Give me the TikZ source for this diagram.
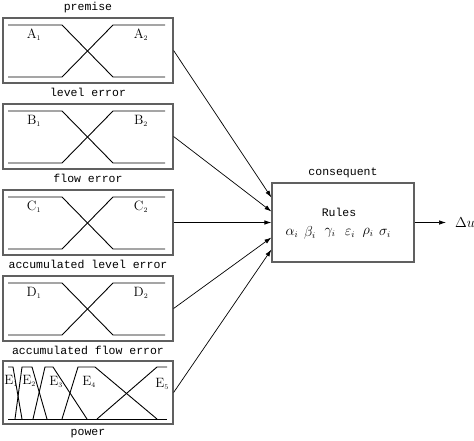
\documentclass[tikz,border=0pt]{standalone}
\usepackage{amsmath}
\usepackage{fontspec}
\setmonofont{Liberation Mono}
\usepackage{tikz}
\usetikzlibrary{calc, positioning, arrows.meta}

\tikzset{
  mfbox/.style={draw=gray!75!black, line width=1.2pt, minimum width=170pt, minimum height=65pt, inner sep=0pt},
  mf/.style={line width=0.9pt},
  caption/.style={font=\fontsize{11.5}{13}\selectfont\ttfamily, inner sep=1pt},
  letter/.style={font=\fontsize{13.5}{15}\selectfont, inner sep=0pt},
  link/.style={-{Latex[length=7pt,width=4.5pt]}, line width=0.7pt},
}

\begin{document}
\begin{tikzpicture}[x=1pt, y=-1pt]
            \useasboundingbox (0,0) rectangle (474,440);
            % premise boxes
            \node[mfbox] (lev) at (88,50.5) {};
            \node[mfbox] (flow) at (88,136.5) {};
            \node[mfbox] (alev) at (88,222.5) {};
            \node[mfbox] (aflow) at (88,308.5) {};
            \node[mfbox, minimum height=63pt] (pow) at (88,392.5) {};
            \node[caption, above=3pt of lev] (prem) {premise};
            \node[caption, below=3pt of lev] (levlab) {level error};
            \node[caption, below=3pt of flow] (flowlab) {flow error};
            \node[caption, below=3pt of alev] (alevlab) {accumulated level error};
            \node[caption, below=3pt of aflow] (aflowlab) {accumulated flow error};
            \node[caption, below=3pt of pow] (powlab) {power};
            % two sets per input
            \foreach \t/\l in {18/A, 104/B, 190/C, 276/D} {
                \draw[mf] (8,\t+7) -- (62,\t+7) -- (113,\t+59) -- (165,\t+59);
                \draw[mf] (8,\t+59) -- (62,\t+59) -- (113,\t+7) -- (165,\t+7);
                \node[letter] (\l1) at (34,\t+17) {$\mathrm{\l}_{\scriptscriptstyle 1}$};
                \node[letter] (\l2) at (141,\t+17) {$\mathrm{\l}_{\scriptscriptstyle 2}$};
            }
            % five sets for power
            \draw[mf] (8,419) -- (167,419);
            \draw[mf] (8,367) -- (13,367) -- (22,419);
            \draw[mf] (15,419) -- (22,367) -- (32,367) -- (47,419);
            \draw[mf] (33,419) -- (45,367) -- (53,367) -- (87,419);
            \draw[mf] (62,419) -- (78,367) -- (95,367) -- (157,419);
            \draw[mf] (97,419) -- (157,367) -- (167,367);
            \node[letter] (E1) at (11,381) {$\mathrm{E}_{\scriptscriptstyle 1}$};
            \node[letter] (E2) at (29,381) {$\mathrm{E}_{\scriptscriptstyle 2}$};
            \node[letter] (E3) at (56,382) {$\mathrm{E}_{\scriptscriptstyle 3}$};
            \node[letter] (E4) at (89,382) {$\mathrm{E}_{\scriptscriptstyle 4}$};
            \node[letter] (E5) at (162,384) {$\mathrm{E}_{\scriptscriptstyle 5}$};
            % consequent
            \node[mfbox, minimum width=142pt, minimum height=79pt] (rules) at (343,222.5) {};
            \node[caption, above=3pt of rules] (cons) {consequent};
            \node[caption] (ruleslab) at (339,212) {Rules};
            \node[letter] (alpha) at (292,233) {$\alpha_i$};
            \node[letter] (beta) at (310,233) {$\beta_i$};
            \node[letter] (gamma) at (330,233) {$\gamma_i$};
            \node[letter] (eps) at (350,233) {$\varepsilon_i$};
            \node[letter] (rho) at (368,233) {$\rho_i$};
            \node[letter] (sigma) at (385,233) {$\sigma_i$};
            \coordinate (in1) at ($(rules.west)+(0,-25)$);
            \coordinate (in2) at ($(rules.west)+(0,-11)$);
            \coordinate (in3) at (rules.west);
            \coordinate (in4) at ($(rules.west)+(0,15)$);
            \coordinate (in5) at ($(rules.west)+(0,27)$);
            \draw[link] (lev.east) -- (in1);
            \draw[link] (flow.east) -- (in2);
            \draw[link] (alev.east) -- (in3);
            \draw[link] (aflow.east) -- (in4);
            \draw[link] (pow.east) -- (in5);
            \coordinate (out) at (446,222.5);
            \draw[link] (rules.east) -- (out);
            \node[letter, right=9pt of out] (du) {$\Delta u$};
        \end{tikzpicture}
\end{document}
